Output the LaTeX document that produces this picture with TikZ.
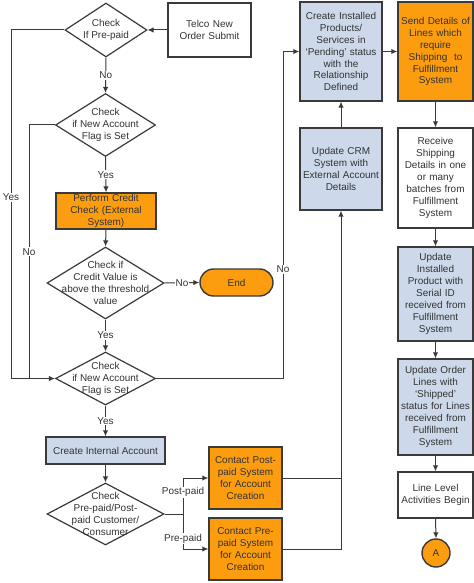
\documentclass[tikz,border=0pt]{standalone}
\usepackage{fontspec}
\setmainfont{Liberation Sans}
\usetikzlibrary{shapes.geometric,arrows.meta}
\definecolor{lc}{HTML}{3A3A3A}
\definecolor{txt}{HTML}{333333}
\definecolor{org}{HTML}{FC9D0F}
\definecolor{blu}{HTML}{CDD9EA}
\tikzset{
  every node/.style={font=\fontsize{10}{12}\selectfont, text=txt},
  box/.style={draw=lc, line width=1.4bp, rectangle, inner sep=1bp, align=center},
  dia/.style={draw=lc, line width=1.2bp, diamond, inner sep=0pt, fill=white},
  conn/.style={draw=lc, line width=1bp},
  arr/.style={conn, -{Latex[length=6bp,width=5.5bp]}},
  lab/.style={fill=white, inner sep=0.8bp}
}
\begin{document}
\begin{tikzpicture}[x=1bp,y=-1bp]
\useasboundingbox (0,0) rectangle (474,583);
% left column
\node[box, minimum width=83bp, minimum height=54bp, text width=79bp] (telco) at (209.5,30) {Telco New\\Order Submit};
\node[dia, minimum width=82bp, minimum height=54bp, label={[align=center]center:Check\\If Pre-paid}] (d1) at (106,30) {};
\node[dia, minimum width=100bp, minimum height=63bp, label={[align=center]center:Check\\if New Account\\Flag is Set}] (d2) at (105.5,125) {};
\node[box, fill=org, minimum width=100bp, minimum height=36bp, text width=98bp] (credit) at (106,211) {Perform Credit\\Check (External\\System)};
\node[dia, minimum width=117bp, minimum height=72bp, label={[align=center]center:Check if\\Credit Value is\\above the threshold\\value}] (d3) at (105.5,283) {};
\node[box, fill=org, rounded corners=13.5bp, minimum width=73bp, minimum height=27bp] (end) at (236.5,282.5) {End};
\node[dia, minimum width=100bp, minimum height=53bp, label={[align=center]center:Check\\if New Account\\Flag is Set}] (d4) at (105.5,378.5) {};
\node[box, fill=blu, minimum width=119bp, minimum height=27bp] (internal) at (105.5,450.5) {Create Internal Account};
\node[dia, minimum width=117bp, minimum height=62bp, label={[align=center]center:Check\\Pre-paid/Post-\\paid Customer/\\Consumer}] (d5) at (105.5,514) {};
\node[box, fill=org, minimum width=73bp, minimum height=62bp, text width=71bp] (post) at (245.5,478) {Contact Post-\\paid System\\for Account\\Creation};
\node[box, fill=org, minimum width=73bp, minimum height=62bp, text width=71bp] (pre) at (245.5,549) {Contact Pre-\\paid System\\for Account\\Creation};
% middle column
\node[box, fill=blu, minimum width=82bp, minimum height=82bp, text width=80bp] (crm) at (341,169) {Update CRM\\System with\\External Account\\Details};
\node[box, fill=blu, minimum width=82bp, minimum height=99bp, text width=80bp] (inst) at (341,51.5) {Create Installed\\Products/\\Services in\\`Pending' status\\with the\\Relationship\\Defined};
% right column
\node[box, fill=org, minimum width=73bp, minimum height=99bp, text width=73bp] (send) at (435.5,51.5) {Send Details of\\Lines which\\require\\Shipping\ \ to\\Fulfillment\\System};
\node[box, fill=white, minimum width=73bp, minimum height=100bp, text width=73bp] (recv) at (435.5,178) {Receive\\Shipping\\Details in one\\or many\\batches from\\Fulfillment\\System};
\node[box, fill=blu, minimum width=73bp, minimum height=94bp, text width=73bp] (upd) at (435.5,294) {Update\\Installed\\Product with\\Serial ID\\received from\\Fulfillment\\System};
\node[box, fill=blu, minimum width=73bp, minimum height=96bp, text width=73bp] (ord) at (435.5,407) {Update Order\\Lines with\\`Shipped'\\status for Lines\\received from\\Fulfillment\\System};
\node[box, fill=white, minimum width=73bp, minimum height=46bp, text width=73bp] (llab) at (435.5,495) {Line Level\\Activities Begin};
\node[draw=lc, line width=1.4bp, circle, fill=org, minimum size=28bp, inner sep=0pt] (A) at (436,553) {A};
% junction coordinates
\coordinate (j1) at (11,378.5);
\coordinate (j2) at (29,378.5);
\coordinate (j3) at (283,378.5);
\coordinate (split) at (183,514);
\coordinate (j4) at (341,478);
% connectors
\draw[arr] (telco) -- (d1.east);
\draw[arr] (d1.south) -- node[lab]{No} (d2.north);
\draw[arr] (d2.south) -- node[lab]{Yes} (credit.north);
\draw[arr] (credit.south) -- (d3.north);
\draw[arr] (d3.east) -- node[lab, pos=0.5]{No} (end.west);
\draw[arr] (d3.south) -- node[lab]{Yes} (d4.north);
\draw[arr] (d1.west) -| node[lab, pos=0.74]{Yes} (j1) -- (d4.west);
\draw[conn] (d2.west) -| node[lab, pos=0.75]{No} (j2);
\draw[arr] (d4.east) -- (j3) |- node[lab, pos=0.167]{No} (inst.west);
\draw[arr] (d4.south) -- node[lab]{Yes} (internal.north);
\draw[arr] (internal.south) -- (d5.north);
\draw[conn] (d5.east) -- (split);
\draw[arr] (split) |- node[lab, pos=0.3]{Post-paid} (post.west);
\draw[arr] (split) |- node[lab, pos=0.35]{Pre-paid} (pre.west);
\draw[conn] (post.east) -- (j4);
\draw[arr] (pre.east) -| (crm.south);
\draw[arr] (crm.north) -- (inst.south);
\draw[arr] (inst.east) -- (send.west);
\draw[arr] (send.south) -- (recv.north);
\draw[arr] (recv.south) -- (upd.north);
\draw[arr] (upd.south) -- (ord.north);
\draw[arr] (ord.south) -- (llab.north);
\draw[arr] (llab.south) -- (A.north);
\end{tikzpicture}
\end{document}
